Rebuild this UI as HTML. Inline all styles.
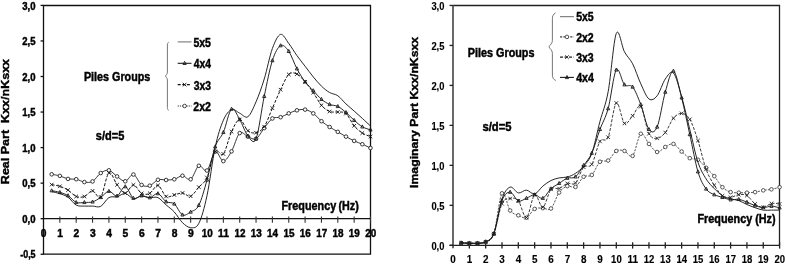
<!DOCTYPE html>
<html><head><meta charset="utf-8"><title>Piles Groups</title>
<style>
html,body{margin:0;padding:0;background:#fff;}
body{width:785px;height:267px;overflow:hidden;}
svg{display:block;}
text{font-family:"Liberation Sans",Arial,sans-serif;font-weight:bold;}
</style></head><body>
<svg width="785" height="267" viewBox="0 0 785 267">
<rect width="785" height="267" fill="#fff"/>
<g stroke="#111" stroke-width="1.3" fill="none">
<path d="M43.5,5.5 H370.5 V254.2 H43.5"/>
<path d="M43.5,4.9 V254.8"/>
<path d="M43.5,218.70 H370.5"/>
<path d="M40.6,5.40 H43.5"/>
<path d="M40.6,40.95 H43.5"/>
<path d="M40.6,76.50 H43.5"/>
<path d="M40.6,112.05 H43.5"/>
<path d="M40.6,147.60 H43.5"/>
<path d="M40.6,183.15 H43.5"/>
<path d="M40.6,218.70 H43.5"/>
<path d="M40.6,254.25 H43.5"/>
<path d="M59.85,216.40 V222.80" stroke="#333" stroke-width="1.1"/>
<path d="M76.20,216.40 V222.80" stroke="#333" stroke-width="1.1"/>
<path d="M92.55,216.40 V222.80" stroke="#333" stroke-width="1.1"/>
<path d="M108.90,216.40 V222.80" stroke="#333" stroke-width="1.1"/>
<path d="M125.25,216.40 V222.80" stroke="#333" stroke-width="1.1"/>
<path d="M141.60,216.40 V222.80" stroke="#333" stroke-width="1.1"/>
<path d="M157.95,216.40 V222.80" stroke="#333" stroke-width="1.1"/>
<path d="M174.30,216.40 V222.80" stroke="#333" stroke-width="1.1"/>
<path d="M190.65,216.40 V222.80" stroke="#333" stroke-width="1.1"/>
<path d="M207.00,216.40 V222.80" stroke="#333" stroke-width="1.1"/>
<path d="M223.35,216.40 V222.80" stroke="#333" stroke-width="1.1"/>
<path d="M239.70,216.40 V222.80" stroke="#333" stroke-width="1.1"/>
<path d="M256.05,216.40 V222.80" stroke="#333" stroke-width="1.1"/>
<path d="M272.40,216.40 V222.80" stroke="#333" stroke-width="1.1"/>
<path d="M288.75,216.40 V222.80" stroke="#333" stroke-width="1.1"/>
<path d="M305.10,216.40 V222.80" stroke="#333" stroke-width="1.1"/>
<path d="M321.45,216.40 V222.80" stroke="#333" stroke-width="1.1"/>
<path d="M337.80,216.40 V222.80" stroke="#333" stroke-width="1.1"/>
<path d="M354.15,216.40 V222.80" stroke="#333" stroke-width="1.1"/>
<path d="M370.50,216.40 V222.80" stroke="#333" stroke-width="1.1"/>
</g>
<g stroke="#222" stroke-width="1.3" fill="none">
<path d="M453.0,5.5 H779.5 V245.30"/>
<path d="M453.0,4.9 V248.30" stroke="#444" stroke-width="1.6"/>
<path d="M449.5,245.30 H779.5"/>
<path d="M449.5,5.45 H453.0"/>
<path d="M449.5,45.43 H453.0"/>
<path d="M449.5,85.40 H453.0"/>
<path d="M449.5,125.38 H453.0"/>
<path d="M449.5,165.35 H453.0"/>
<path d="M449.5,205.33 H453.0"/>
<path d="M449.5,245.30 H453.0"/>
<path d="M469.33,242.30 V248.60"/>
<path d="M485.66,242.30 V248.60"/>
<path d="M501.99,242.30 V248.60"/>
<path d="M518.32,242.30 V248.60"/>
<path d="M534.65,242.30 V248.60"/>
<path d="M550.98,242.30 V248.60"/>
<path d="M567.31,242.30 V248.60"/>
<path d="M583.64,242.30 V248.60"/>
<path d="M599.97,242.30 V248.60"/>
<path d="M616.30,242.30 V248.60"/>
<path d="M632.63,242.30 V248.60"/>
<path d="M648.96,242.30 V248.60"/>
<path d="M665.29,242.30 V248.60"/>
<path d="M681.62,242.30 V248.60"/>
<path d="M697.95,242.30 V248.60"/>
<path d="M714.28,242.30 V248.60"/>
<path d="M730.61,242.30 V248.60"/>
<path d="M746.94,242.30 V248.60"/>
<path d="M763.27,242.30 V248.60"/>
<path d="M779.60,242.30 V248.60"/>
</g>
<path d="M51.67,174.31 C53.04,174.57 57.12,175.10 59.85,175.87 C62.58,176.64 65.30,178.37 68.03,178.93 C70.75,179.49 73.48,178.69 76.20,179.21 C78.92,179.73 81.65,181.69 84.38,182.06 C87.10,182.42 89.83,182.92 92.55,181.42 C95.28,179.91 98.00,174.88 100.73,173.03 C103.45,171.18 106.18,169.76 108.90,170.33 C111.62,170.89 114.35,174.62 117.08,176.44 C119.80,178.26 122.53,181.59 125.25,181.27 C127.97,180.95 130.70,173.92 133.43,174.52 C136.15,175.12 138.88,183.04 141.60,184.90 C144.33,186.76 147.05,186.54 149.78,185.68 C152.50,184.83 155.23,180.73 157.95,179.78 C160.68,178.83 163.40,180.08 166.12,180.00 C168.85,179.91 171.58,180.00 174.30,179.28 C177.03,178.57 179.75,175.73 182.48,175.73 C185.20,175.73 187.93,180.94 190.65,179.28 C193.38,177.62 196.10,167.23 198.83,165.78 C201.55,164.32 204.28,172.91 207.00,170.54 C209.72,168.17 212.45,153.12 215.18,151.56 C217.90,149.99 220.63,161.19 223.35,161.15 C226.08,161.12 228.80,156.02 231.53,151.34 C234.25,146.66 236.98,135.52 239.70,133.07 C242.43,130.62 245.15,135.68 247.88,136.62 C250.60,137.57 253.33,140.18 256.05,138.76 C258.78,137.34 261.50,131.47 264.23,128.09 C266.95,124.71 269.68,120.31 272.40,118.49 C275.13,116.68 277.85,118.07 280.58,117.21 C283.30,116.36 286.02,114.52 288.75,113.37 C291.48,112.22 294.20,110.95 296.93,110.32 C299.65,109.69 302.38,109.10 305.10,109.61 C307.83,110.12 310.55,111.44 313.28,113.37 C316.00,115.31 318.73,118.92 321.45,121.20 C324.18,123.47 326.90,125.25 329.62,127.03 C332.35,128.80 335.07,130.26 337.80,131.86 C340.53,133.46 343.25,135.12 345.98,136.62 C348.70,138.13 351.43,139.62 354.15,140.89 C356.88,142.16 359.60,143.05 362.33,144.23 C365.05,145.42 369.14,147.37 370.50,148.00" fill="none" stroke="#222" stroke-width="0.9"/>
<circle cx="51.67" cy="174.31" r="1.8" fill="#fff" stroke="#222" stroke-width="0.9"/>
<circle cx="59.85" cy="175.87" r="1.8" fill="#fff" stroke="#222" stroke-width="0.9"/>
<circle cx="68.03" cy="178.93" r="1.8" fill="#fff" stroke="#222" stroke-width="0.9"/>
<circle cx="76.20" cy="179.21" r="1.8" fill="#fff" stroke="#222" stroke-width="0.9"/>
<circle cx="84.38" cy="182.06" r="1.8" fill="#fff" stroke="#222" stroke-width="0.9"/>
<circle cx="92.55" cy="181.42" r="1.8" fill="#fff" stroke="#222" stroke-width="0.9"/>
<circle cx="100.73" cy="173.03" r="1.8" fill="#fff" stroke="#222" stroke-width="0.9"/>
<circle cx="108.90" cy="170.33" r="1.8" fill="#fff" stroke="#222" stroke-width="0.9"/>
<circle cx="117.08" cy="176.44" r="1.8" fill="#fff" stroke="#222" stroke-width="0.9"/>
<circle cx="125.25" cy="181.27" r="1.8" fill="#fff" stroke="#222" stroke-width="0.9"/>
<circle cx="133.43" cy="174.52" r="1.8" fill="#fff" stroke="#222" stroke-width="0.9"/>
<circle cx="141.60" cy="184.90" r="1.8" fill="#fff" stroke="#222" stroke-width="0.9"/>
<circle cx="149.78" cy="185.68" r="1.8" fill="#fff" stroke="#222" stroke-width="0.9"/>
<circle cx="157.95" cy="179.78" r="1.8" fill="#fff" stroke="#222" stroke-width="0.9"/>
<circle cx="166.12" cy="180.00" r="1.8" fill="#fff" stroke="#222" stroke-width="0.9"/>
<circle cx="174.30" cy="179.28" r="1.8" fill="#fff" stroke="#222" stroke-width="0.9"/>
<circle cx="182.48" cy="175.73" r="1.8" fill="#fff" stroke="#222" stroke-width="0.9"/>
<circle cx="190.65" cy="179.28" r="1.8" fill="#fff" stroke="#222" stroke-width="0.9"/>
<circle cx="198.83" cy="165.78" r="1.8" fill="#fff" stroke="#222" stroke-width="0.9"/>
<circle cx="207.00" cy="170.54" r="1.8" fill="#fff" stroke="#222" stroke-width="0.9"/>
<circle cx="215.18" cy="151.56" r="1.8" fill="#fff" stroke="#222" stroke-width="0.9"/>
<circle cx="223.35" cy="161.15" r="1.8" fill="#fff" stroke="#222" stroke-width="0.9"/>
<circle cx="231.53" cy="151.34" r="1.8" fill="#fff" stroke="#222" stroke-width="0.9"/>
<circle cx="239.70" cy="133.07" r="1.8" fill="#fff" stroke="#222" stroke-width="0.9"/>
<circle cx="247.88" cy="136.62" r="1.8" fill="#fff" stroke="#222" stroke-width="0.9"/>
<circle cx="256.05" cy="138.76" r="1.8" fill="#fff" stroke="#222" stroke-width="0.9"/>
<circle cx="264.23" cy="128.09" r="1.8" fill="#fff" stroke="#222" stroke-width="0.9"/>
<circle cx="272.40" cy="118.49" r="1.8" fill="#fff" stroke="#222" stroke-width="0.9"/>
<circle cx="280.58" cy="117.21" r="1.8" fill="#fff" stroke="#222" stroke-width="0.9"/>
<circle cx="288.75" cy="113.37" r="1.8" fill="#fff" stroke="#222" stroke-width="0.9"/>
<circle cx="296.93" cy="110.32" r="1.8" fill="#fff" stroke="#222" stroke-width="0.9"/>
<circle cx="305.10" cy="109.61" r="1.8" fill="#fff" stroke="#222" stroke-width="0.9"/>
<circle cx="313.28" cy="113.37" r="1.8" fill="#fff" stroke="#222" stroke-width="0.9"/>
<circle cx="321.45" cy="121.20" r="1.8" fill="#fff" stroke="#222" stroke-width="0.9"/>
<circle cx="329.62" cy="127.03" r="1.8" fill="#fff" stroke="#222" stroke-width="0.9"/>
<circle cx="337.80" cy="131.86" r="1.8" fill="#fff" stroke="#222" stroke-width="0.9"/>
<circle cx="345.98" cy="136.62" r="1.8" fill="#fff" stroke="#222" stroke-width="0.9"/>
<circle cx="354.15" cy="140.89" r="1.8" fill="#fff" stroke="#222" stroke-width="0.9"/>
<circle cx="362.33" cy="144.23" r="1.8" fill="#fff" stroke="#222" stroke-width="0.9"/>
<circle cx="370.50" cy="148.00" r="1.8" fill="#fff" stroke="#222" stroke-width="0.9"/>
<path d="M51.67,184.62 C53.04,184.90 57.12,185.41 59.85,186.32 C62.58,187.24 65.30,188.40 68.03,190.09 C70.75,191.79 73.48,195.42 76.20,196.49 C78.92,197.56 81.65,197.43 84.38,196.49 C87.10,195.55 89.83,190.78 92.55,190.87 C95.28,190.97 98.00,200.06 100.73,197.06 C103.45,194.06 106.18,174.94 108.90,172.88 C111.62,170.83 114.35,181.39 117.08,184.76 C119.80,188.12 122.53,193.05 125.25,193.08 C127.97,193.10 130.70,184.84 133.43,184.90 C136.15,184.96 138.88,192.03 141.60,193.43 C144.33,194.83 147.05,194.63 149.78,193.29 C152.50,191.95 155.23,184.88 157.95,185.40 C160.68,185.92 163.40,194.83 166.12,196.42 C168.85,198.01 171.58,195.49 174.30,194.93 C177.03,194.36 179.75,192.79 182.48,193.01 C185.20,193.22 187.93,197.19 190.65,196.21 C193.38,195.22 196.10,190.21 198.83,187.10 C201.55,184.00 204.28,183.50 207.00,177.58 C209.72,171.65 212.45,155.49 215.18,151.56 C217.90,147.62 220.63,157.29 223.35,153.97 C226.08,150.65 228.80,137.38 231.53,131.65 C234.25,125.91 236.98,119.71 239.70,119.56 C242.43,119.41 245.15,128.53 247.88,130.72 C250.60,132.91 253.33,133.39 256.05,132.71 C258.78,132.04 261.50,130.76 264.23,126.67 C266.95,122.58 269.68,114.35 272.40,108.18 C275.13,102.02 277.85,95.33 280.58,89.70 C283.30,84.07 286.02,77.02 288.75,74.41 C291.48,71.80 294.20,72.81 296.93,74.06 C299.65,75.30 302.38,78.80 305.10,81.88 C307.83,84.96 310.55,88.63 313.28,92.54 C316.00,96.45 318.73,102.18 321.45,105.34 C324.18,108.50 326.90,110.41 329.62,111.53 C332.35,112.64 335.07,111.68 337.80,112.02 C340.53,112.37 343.25,111.29 345.98,113.59 C348.70,115.89 351.43,122.57 354.15,125.82 C356.88,129.06 359.60,131.27 362.33,133.07 C365.05,134.87 369.14,136.03 370.50,136.62" fill="none" stroke="#111" stroke-width="1.0" stroke-dasharray="3,1.6"/>
<path d="M49.88,182.82 L53.47,186.42 M49.88,186.42 L53.47,182.82" stroke="#111" stroke-width="0.9"/>
<path d="M58.05,184.52 L61.65,188.12 M58.05,188.12 L61.65,184.52" stroke="#111" stroke-width="0.9"/>
<path d="M66.23,188.29 L69.83,191.89 M66.23,191.89 L69.83,188.29" stroke="#111" stroke-width="0.9"/>
<path d="M74.40,194.69 L78.00,198.29 M74.40,198.29 L78.00,194.69" stroke="#111" stroke-width="0.9"/>
<path d="M82.58,194.69 L86.17,198.29 M82.58,198.29 L86.17,194.69" stroke="#111" stroke-width="0.9"/>
<path d="M90.75,189.07 L94.35,192.67 M90.75,192.67 L94.35,189.07" stroke="#111" stroke-width="0.9"/>
<path d="M98.93,195.26 L102.53,198.86 M98.93,198.86 L102.53,195.26" stroke="#111" stroke-width="0.9"/>
<path d="M107.10,171.08 L110.70,174.69 M107.10,174.69 L110.70,171.08" stroke="#111" stroke-width="0.9"/>
<path d="M115.28,182.96 L118.88,186.56 M115.28,186.56 L118.88,182.96" stroke="#111" stroke-width="0.9"/>
<path d="M123.45,191.28 L127.05,194.88 M123.45,194.88 L127.05,191.28" stroke="#111" stroke-width="0.9"/>
<path d="M131.62,183.10 L135.23,186.70 M131.62,186.70 L135.23,183.10" stroke="#111" stroke-width="0.9"/>
<path d="M139.80,191.63 L143.40,195.23 M139.80,195.23 L143.40,191.63" stroke="#111" stroke-width="0.9"/>
<path d="M147.97,191.49 L151.58,195.09 M147.97,195.09 L151.58,191.49" stroke="#111" stroke-width="0.9"/>
<path d="M156.15,183.60 L159.75,187.20 M156.15,187.20 L159.75,183.60" stroke="#111" stroke-width="0.9"/>
<path d="M164.32,194.62 L167.93,198.22 M164.32,198.22 L167.93,194.62" stroke="#111" stroke-width="0.9"/>
<path d="M172.50,193.13 L176.10,196.73 M172.50,196.73 L176.10,193.13" stroke="#111" stroke-width="0.9"/>
<path d="M180.68,191.21 L184.28,194.81 M180.68,194.81 L184.28,191.21" stroke="#111" stroke-width="0.9"/>
<path d="M188.85,194.41 L192.45,198.01 M188.85,198.01 L192.45,194.41" stroke="#111" stroke-width="0.9"/>
<path d="M197.03,185.30 L200.63,188.91 M197.03,188.91 L200.63,185.30" stroke="#111" stroke-width="0.9"/>
<path d="M205.20,175.78 L208.80,179.38 M205.20,179.38 L208.80,175.78" stroke="#111" stroke-width="0.9"/>
<path d="M213.38,149.75 L216.98,153.36 M213.38,153.36 L216.98,149.75" stroke="#111" stroke-width="0.9"/>
<path d="M221.55,152.17 L225.15,155.77 M221.55,155.77 L225.15,152.17" stroke="#111" stroke-width="0.9"/>
<path d="M229.72,129.85 L233.33,133.45 M229.72,133.45 L233.33,129.85" stroke="#111" stroke-width="0.9"/>
<path d="M237.90,117.76 L241.50,121.36 M237.90,121.36 L241.50,117.76" stroke="#111" stroke-width="0.9"/>
<path d="M246.08,128.92 L249.68,132.52 M246.08,132.52 L249.68,128.92" stroke="#111" stroke-width="0.9"/>
<path d="M254.25,130.91 L257.85,134.51 M254.25,134.51 L257.85,130.91" stroke="#111" stroke-width="0.9"/>
<path d="M262.43,124.87 L266.03,128.47 M262.43,128.47 L266.03,124.87" stroke="#111" stroke-width="0.9"/>
<path d="M270.60,106.38 L274.20,109.98 M270.60,109.98 L274.20,106.38" stroke="#111" stroke-width="0.9"/>
<path d="M278.78,87.90 L282.38,91.50 M278.78,91.50 L282.38,87.90" stroke="#111" stroke-width="0.9"/>
<path d="M286.95,72.61 L290.55,76.21 M286.95,76.21 L290.55,72.61" stroke="#111" stroke-width="0.9"/>
<path d="M295.12,72.26 L298.73,75.86 M295.12,75.86 L298.73,72.26" stroke="#111" stroke-width="0.9"/>
<path d="M303.30,80.08 L306.90,83.68 M303.30,83.68 L306.90,80.08" stroke="#111" stroke-width="0.9"/>
<path d="M311.48,90.74 L315.08,94.34 M311.48,94.34 L315.08,90.74" stroke="#111" stroke-width="0.9"/>
<path d="M319.65,103.54 L323.25,107.14 M319.65,107.14 L323.25,103.54" stroke="#111" stroke-width="0.9"/>
<path d="M327.82,109.73 L331.43,113.33 M327.82,113.33 L331.43,109.73" stroke="#111" stroke-width="0.9"/>
<path d="M336.00,110.22 L339.60,113.82 M336.00,113.82 L339.60,110.22" stroke="#111" stroke-width="0.9"/>
<path d="M344.18,111.79 L347.78,115.39 M344.18,115.39 L347.78,111.79" stroke="#111" stroke-width="0.9"/>
<path d="M352.35,124.02 L355.95,127.62 M352.35,127.62 L355.95,124.02" stroke="#111" stroke-width="0.9"/>
<path d="M360.53,131.27 L364.13,134.87 M360.53,134.87 L364.13,131.27" stroke="#111" stroke-width="0.9"/>
<path d="M368.70,134.82 L372.30,138.42 M368.70,138.42 L372.30,134.82" stroke="#111" stroke-width="0.9"/>
<path d="M51.67,190.66 C53.04,190.94 57.12,191.54 59.85,192.37 C62.58,193.20 65.30,193.97 68.03,195.64 C70.75,197.31 73.48,201.27 76.20,202.39 C78.92,203.52 81.65,202.47 84.38,202.39 C87.10,202.31 89.83,202.72 92.55,201.89 C95.28,201.06 98.00,199.19 100.73,197.41 C103.45,195.64 106.18,191.48 108.90,191.23 C111.62,190.98 114.35,196.69 117.08,195.92 C119.80,195.15 122.53,186.23 125.25,186.61 C127.97,186.99 130.70,196.68 133.43,198.20 C136.15,199.71 138.88,195.80 141.60,195.71 C144.33,195.61 147.05,197.98 149.78,197.63 C152.50,197.27 155.23,192.90 157.95,193.58 C160.68,194.25 163.40,199.96 166.12,201.68 C168.85,203.40 171.58,201.69 174.30,203.88 C177.03,206.08 179.75,213.48 182.48,214.83 C185.20,216.18 187.93,213.59 190.65,211.99 C193.38,210.39 196.10,210.57 198.83,205.24 C201.55,199.90 204.28,189.74 207.00,180.00 C209.72,170.25 212.45,154.73 215.18,146.79 C217.90,138.85 220.63,138.64 223.35,132.36 C226.08,126.08 228.80,111.24 231.53,109.11 C234.25,106.98 236.98,115.09 239.70,119.56 C242.43,124.03 245.15,132.71 247.88,135.91 C250.60,139.11 253.33,145.36 256.05,138.76 C258.78,132.16 261.50,109.35 264.23,96.31 C266.95,83.28 269.68,69.00 272.40,60.55 C275.13,52.10 277.85,47.16 280.58,45.62 C283.30,44.08 286.02,47.45 288.75,51.30 C291.48,55.16 294.20,63.63 296.93,68.72 C299.65,73.82 302.38,78.23 305.10,81.88 C307.83,85.53 310.55,87.72 313.28,90.62 C316.00,93.53 318.73,97.00 321.45,99.30 C324.18,101.60 326.90,103.23 329.62,104.42 C332.35,105.60 335.07,105.07 337.80,106.41 C340.53,107.75 343.25,110.14 345.98,112.45 C348.70,114.76 351.43,117.88 354.15,120.27 C356.88,122.66 359.60,125.21 362.33,126.81 C365.05,128.41 369.14,129.36 370.50,129.87" fill="none" stroke="#1a1a1a" stroke-width="0.95"/>
<path d="M51.67,188.76 L53.27,191.86 L50.07,191.86 Z" fill="none" stroke="#1a1a1a" stroke-width="0.9"/>
<path d="M59.85,190.47 L61.45,193.57 L58.25,193.57 Z" fill="none" stroke="#1a1a1a" stroke-width="0.9"/>
<path d="M68.03,193.74 L69.62,196.84 L66.43,196.84 Z" fill="none" stroke="#1a1a1a" stroke-width="0.9"/>
<path d="M76.20,200.49 L77.80,203.59 L74.60,203.59 Z" fill="none" stroke="#1a1a1a" stroke-width="0.9"/>
<path d="M84.38,200.49 L85.97,203.59 L82.78,203.59 Z" fill="none" stroke="#1a1a1a" stroke-width="0.9"/>
<path d="M92.55,199.99 L94.15,203.09 L90.95,203.09 Z" fill="none" stroke="#1a1a1a" stroke-width="0.9"/>
<path d="M100.73,195.51 L102.33,198.61 L99.13,198.61 Z" fill="none" stroke="#1a1a1a" stroke-width="0.9"/>
<path d="M108.90,189.33 L110.50,192.43 L107.30,192.43 Z" fill="none" stroke="#1a1a1a" stroke-width="0.9"/>
<path d="M117.08,194.02 L118.67,197.12 L115.48,197.12 Z" fill="none" stroke="#1a1a1a" stroke-width="0.9"/>
<path d="M125.25,184.71 L126.85,187.81 L123.65,187.81 Z" fill="none" stroke="#1a1a1a" stroke-width="0.9"/>
<path d="M133.43,196.30 L135.03,199.40 L131.83,199.40 Z" fill="none" stroke="#1a1a1a" stroke-width="0.9"/>
<path d="M141.60,193.81 L143.20,196.91 L140.00,196.91 Z" fill="none" stroke="#1a1a1a" stroke-width="0.9"/>
<path d="M149.78,195.73 L151.38,198.83 L148.18,198.83 Z" fill="none" stroke="#1a1a1a" stroke-width="0.9"/>
<path d="M157.95,191.68 L159.55,194.78 L156.35,194.78 Z" fill="none" stroke="#1a1a1a" stroke-width="0.9"/>
<path d="M166.12,199.78 L167.72,202.88 L164.53,202.88 Z" fill="none" stroke="#1a1a1a" stroke-width="0.9"/>
<path d="M174.30,201.98 L175.90,205.08 L172.70,205.08 Z" fill="none" stroke="#1a1a1a" stroke-width="0.9"/>
<path d="M182.48,212.93 L184.08,216.03 L180.88,216.03 Z" fill="none" stroke="#1a1a1a" stroke-width="0.9"/>
<path d="M190.65,210.09 L192.25,213.19 L189.05,213.19 Z" fill="none" stroke="#1a1a1a" stroke-width="0.9"/>
<path d="M198.83,203.34 L200.43,206.44 L197.23,206.44 Z" fill="none" stroke="#1a1a1a" stroke-width="0.9"/>
<path d="M207.00,178.09 L208.60,181.19 L205.40,181.19 Z" fill="none" stroke="#1a1a1a" stroke-width="0.9"/>
<path d="M215.18,144.89 L216.78,147.99 L213.58,147.99 Z" fill="none" stroke="#1a1a1a" stroke-width="0.9"/>
<path d="M223.35,130.46 L224.95,133.56 L221.75,133.56 Z" fill="none" stroke="#1a1a1a" stroke-width="0.9"/>
<path d="M231.53,107.21 L233.12,110.31 L229.93,110.31 Z" fill="none" stroke="#1a1a1a" stroke-width="0.9"/>
<path d="M239.70,117.66 L241.30,120.76 L238.10,120.76 Z" fill="none" stroke="#1a1a1a" stroke-width="0.9"/>
<path d="M247.88,134.01 L249.48,137.11 L246.28,137.11 Z" fill="none" stroke="#1a1a1a" stroke-width="0.9"/>
<path d="M256.05,136.86 L257.65,139.96 L254.45,139.96 Z" fill="none" stroke="#1a1a1a" stroke-width="0.9"/>
<path d="M264.23,94.41 L265.83,97.51 L262.62,97.51 Z" fill="none" stroke="#1a1a1a" stroke-width="0.9"/>
<path d="M272.40,58.65 L274.00,61.75 L270.80,61.75 Z" fill="none" stroke="#1a1a1a" stroke-width="0.9"/>
<path d="M280.58,43.72 L282.18,46.82 L278.98,46.82 Z" fill="none" stroke="#1a1a1a" stroke-width="0.9"/>
<path d="M288.75,49.40 L290.35,52.50 L287.15,52.50 Z" fill="none" stroke="#1a1a1a" stroke-width="0.9"/>
<path d="M296.93,66.82 L298.53,69.92 L295.32,69.92 Z" fill="none" stroke="#1a1a1a" stroke-width="0.9"/>
<path d="M305.10,79.98 L306.70,83.08 L303.50,83.08 Z" fill="none" stroke="#1a1a1a" stroke-width="0.9"/>
<path d="M313.28,88.72 L314.88,91.82 L311.68,91.82 Z" fill="none" stroke="#1a1a1a" stroke-width="0.9"/>
<path d="M321.45,97.40 L323.05,100.50 L319.85,100.50 Z" fill="none" stroke="#1a1a1a" stroke-width="0.9"/>
<path d="M329.62,102.52 L331.23,105.62 L328.02,105.62 Z" fill="none" stroke="#1a1a1a" stroke-width="0.9"/>
<path d="M337.80,104.51 L339.40,107.61 L336.20,107.61 Z" fill="none" stroke="#1a1a1a" stroke-width="0.9"/>
<path d="M345.98,110.55 L347.58,113.65 L344.38,113.65 Z" fill="none" stroke="#1a1a1a" stroke-width="0.9"/>
<path d="M354.15,118.37 L355.75,121.47 L352.55,121.47 Z" fill="none" stroke="#1a1a1a" stroke-width="0.9"/>
<path d="M362.33,124.91 L363.93,128.01 L360.73,128.01 Z" fill="none" stroke="#1a1a1a" stroke-width="0.9"/>
<path d="M370.50,127.97 L372.10,131.07 L368.90,131.07 Z" fill="none" stroke="#1a1a1a" stroke-width="0.9"/>
<path d="M51.67,191.58 C53.04,191.94 57.12,192.78 59.85,193.72 C62.58,194.65 65.30,195.31 68.03,197.20 C70.75,199.10 73.48,203.61 76.20,205.09 C78.92,206.57 81.65,205.92 84.38,206.09 C87.10,206.25 89.83,206.04 92.55,206.09 C95.28,206.14 98.00,207.78 100.73,206.37 C103.45,204.96 106.18,199.24 108.90,197.63 C111.62,196.02 114.35,197.39 117.08,196.70 C119.80,196.02 122.53,193.18 125.25,193.50 C127.97,193.82 130.70,198.18 133.43,198.62 C136.15,199.06 138.88,196.30 141.60,196.13 C144.33,195.97 147.05,197.38 149.78,197.63 C152.50,197.88 155.23,196.42 157.95,197.63 C160.68,198.84 163.40,202.49 166.12,204.88 C168.85,207.27 171.58,209.03 174.30,211.99 C177.03,214.95 179.75,220.05 182.48,222.66 C185.20,225.26 187.93,227.51 190.65,227.63 C193.38,227.75 196.10,228.70 198.83,223.37 C201.55,218.03 204.28,208.32 207.00,195.64 C209.72,182.96 212.45,159.85 215.18,147.29 C217.90,134.73 220.63,126.55 223.35,120.27 C226.08,113.99 228.80,110.79 231.53,109.61 C234.25,108.42 236.98,111.98 239.70,113.16 C242.43,114.35 245.15,118.61 247.88,116.72 C250.60,114.82 253.33,108.07 256.05,101.79 C258.78,95.50 261.50,87.92 264.23,79.03 C266.95,70.15 269.68,55.90 272.40,48.46 C275.13,41.02 277.85,35.21 280.58,34.38 C283.30,33.55 286.02,39.95 288.75,43.48 C291.48,47.01 294.20,51.78 296.93,55.57 C299.65,59.36 302.38,62.68 305.10,66.24 C307.83,69.79 310.55,73.58 313.28,76.90 C316.00,80.22 318.73,83.54 321.45,86.14 C324.18,88.75 326.90,90.94 329.62,92.54 C332.35,94.14 335.07,93.85 337.80,95.74 C340.53,97.64 343.25,101.37 345.98,103.92 C348.70,106.47 351.43,108.61 354.15,111.03 C356.88,113.45 359.60,115.93 362.33,118.42 C365.05,120.91 369.14,124.70 370.50,125.96" fill="none" stroke="#1a1a1a" stroke-width="0.95"/>
<path d="M461.17,242.90 C462.53,242.95 466.61,243.17 469.33,243.22 C472.05,243.27 474.77,243.45 477.50,243.22 C480.22,242.99 482.94,243.45 485.66,241.86 C488.38,240.28 491.10,241.80 493.82,233.71 C496.55,225.62 499.27,197.20 501.99,193.33 C504.71,189.47 507.43,206.86 510.15,210.52 C512.88,214.19 515.60,214.12 518.32,215.32 C521.04,216.52 523.76,218.78 526.49,217.72 C529.21,216.65 531.93,210.52 534.65,208.92 C537.37,207.32 540.09,208.19 542.82,208.12 C545.54,208.06 548.26,211.12 550.98,208.52 C553.70,205.92 556.42,196.26 559.14,192.53 C561.87,188.80 564.59,187.07 567.31,186.14 C570.03,185.20 572.75,188.50 575.48,186.94 C578.20,185.38 580.92,178.78 583.64,176.78 C586.36,174.78 589.08,177.45 591.80,174.94 C594.53,172.44 597.25,164.15 599.97,161.75 C602.69,159.35 605.41,162.35 608.13,160.55 C610.86,158.75 613.58,152.56 616.30,150.96 C619.02,149.36 621.74,150.13 624.46,150.96 C627.19,151.79 629.91,158.78 632.63,155.92 C635.35,153.05 638.07,135.77 640.79,133.77 C643.52,131.77 646.24,140.89 648.96,143.92 C651.68,146.96 654.40,151.49 657.12,152.00 C659.85,152.50 662.57,148.31 665.29,146.96 C668.01,145.62 670.73,143.16 673.45,143.92 C676.18,144.68 678.90,149.15 681.62,151.52 C684.34,153.89 687.06,156.78 689.78,158.15 C692.51,159.53 695.23,158.15 697.95,159.75 C700.67,161.35 703.39,165.02 706.12,167.75 C708.84,170.48 711.56,172.91 714.28,176.14 C717.00,179.38 719.72,184.51 722.44,187.18 C725.17,189.84 727.89,191.21 730.61,192.13 C733.33,193.05 736.05,192.60 738.77,192.69 C741.50,192.79 744.22,192.79 746.94,192.69 C749.66,192.60 752.38,192.52 755.11,192.13 C757.83,191.75 760.55,190.84 763.27,190.37 C765.99,189.91 768.71,189.87 771.43,189.34 C774.16,188.80 778.24,187.54 779.60,187.18" fill="none" stroke="#444" stroke-width="0.9" stroke-dasharray="2.2,1.2"/>
<circle cx="461.17" cy="242.90" r="1.8" fill="#fff" stroke="#444" stroke-width="0.9"/>
<circle cx="469.33" cy="243.22" r="1.8" fill="#fff" stroke="#444" stroke-width="0.9"/>
<circle cx="477.50" cy="243.22" r="1.8" fill="#fff" stroke="#444" stroke-width="0.9"/>
<circle cx="485.66" cy="241.86" r="1.8" fill="#fff" stroke="#444" stroke-width="0.9"/>
<circle cx="493.82" cy="233.71" r="1.8" fill="#fff" stroke="#444" stroke-width="0.9"/>
<circle cx="501.99" cy="193.33" r="1.8" fill="#fff" stroke="#444" stroke-width="0.9"/>
<circle cx="510.15" cy="210.52" r="1.8" fill="#fff" stroke="#444" stroke-width="0.9"/>
<circle cx="518.32" cy="215.32" r="1.8" fill="#fff" stroke="#444" stroke-width="0.9"/>
<circle cx="526.49" cy="217.72" r="1.8" fill="#fff" stroke="#444" stroke-width="0.9"/>
<circle cx="534.65" cy="208.92" r="1.8" fill="#fff" stroke="#444" stroke-width="0.9"/>
<circle cx="542.82" cy="208.12" r="1.8" fill="#fff" stroke="#444" stroke-width="0.9"/>
<circle cx="550.98" cy="208.52" r="1.8" fill="#fff" stroke="#444" stroke-width="0.9"/>
<circle cx="559.14" cy="192.53" r="1.8" fill="#fff" stroke="#444" stroke-width="0.9"/>
<circle cx="567.31" cy="186.14" r="1.8" fill="#fff" stroke="#444" stroke-width="0.9"/>
<circle cx="575.48" cy="186.94" r="1.8" fill="#fff" stroke="#444" stroke-width="0.9"/>
<circle cx="583.64" cy="176.78" r="1.8" fill="#fff" stroke="#444" stroke-width="0.9"/>
<circle cx="591.80" cy="174.94" r="1.8" fill="#fff" stroke="#444" stroke-width="0.9"/>
<circle cx="599.97" cy="161.75" r="1.8" fill="#fff" stroke="#444" stroke-width="0.9"/>
<circle cx="608.13" cy="160.55" r="1.8" fill="#fff" stroke="#444" stroke-width="0.9"/>
<circle cx="616.30" cy="150.96" r="1.8" fill="#fff" stroke="#444" stroke-width="0.9"/>
<circle cx="624.46" cy="150.96" r="1.8" fill="#fff" stroke="#444" stroke-width="0.9"/>
<circle cx="632.63" cy="155.92" r="1.8" fill="#fff" stroke="#444" stroke-width="0.9"/>
<circle cx="640.79" cy="133.77" r="1.8" fill="#fff" stroke="#444" stroke-width="0.9"/>
<circle cx="648.96" cy="143.92" r="1.8" fill="#fff" stroke="#444" stroke-width="0.9"/>
<circle cx="657.12" cy="152.00" r="1.8" fill="#fff" stroke="#444" stroke-width="0.9"/>
<circle cx="665.29" cy="146.96" r="1.8" fill="#fff" stroke="#444" stroke-width="0.9"/>
<circle cx="673.45" cy="143.92" r="1.8" fill="#fff" stroke="#444" stroke-width="0.9"/>
<circle cx="681.62" cy="151.52" r="1.8" fill="#fff" stroke="#444" stroke-width="0.9"/>
<circle cx="689.78" cy="158.15" r="1.8" fill="#fff" stroke="#444" stroke-width="0.9"/>
<circle cx="697.95" cy="159.75" r="1.8" fill="#fff" stroke="#444" stroke-width="0.9"/>
<circle cx="706.12" cy="167.75" r="1.8" fill="#fff" stroke="#444" stroke-width="0.9"/>
<circle cx="714.28" cy="176.14" r="1.8" fill="#fff" stroke="#444" stroke-width="0.9"/>
<circle cx="722.44" cy="187.18" r="1.8" fill="#fff" stroke="#444" stroke-width="0.9"/>
<circle cx="730.61" cy="192.13" r="1.8" fill="#fff" stroke="#444" stroke-width="0.9"/>
<circle cx="738.77" cy="192.69" r="1.8" fill="#fff" stroke="#444" stroke-width="0.9"/>
<circle cx="746.94" cy="192.69" r="1.8" fill="#fff" stroke="#444" stroke-width="0.9"/>
<circle cx="755.11" cy="192.13" r="1.8" fill="#fff" stroke="#444" stroke-width="0.9"/>
<circle cx="763.27" cy="190.37" r="1.8" fill="#fff" stroke="#444" stroke-width="0.9"/>
<circle cx="771.43" cy="189.34" r="1.8" fill="#fff" stroke="#444" stroke-width="0.9"/>
<circle cx="779.60" cy="187.18" r="1.8" fill="#fff" stroke="#444" stroke-width="0.9"/>
<path d="M461.17,242.90 C462.53,242.95 466.61,243.17 469.33,243.22 C472.05,243.27 474.77,243.45 477.50,243.22 C480.22,242.99 482.94,243.45 485.66,241.86 C488.38,240.28 491.10,240.06 493.82,233.71 C496.55,227.35 499.27,209.59 501.99,203.73 C504.71,197.86 507.43,199.04 510.15,198.53 C512.88,198.02 515.60,197.52 518.32,200.69 C521.04,203.86 523.76,218.56 526.49,217.56 C529.21,216.56 531.93,196.42 534.65,194.69 C537.37,192.96 540.09,208.06 542.82,207.16 C545.54,206.27 548.26,192.44 550.98,189.34 C553.70,186.23 556.42,189.52 559.14,188.54 C561.87,187.55 564.59,184.35 567.31,183.42 C570.03,182.49 572.75,185.64 575.48,182.94 C578.20,180.23 580.92,170.29 583.64,167.19 C586.36,164.08 589.08,168.61 591.80,164.31 C594.53,160.01 597.25,145.88 599.97,141.37 C602.69,136.85 605.41,143.60 608.13,137.21 C610.86,130.81 613.58,105.29 616.30,102.99 C619.02,100.68 621.74,121.24 624.46,123.38 C627.19,125.51 629.91,118.58 632.63,115.78 C635.35,112.98 638.07,103.60 640.79,106.59 C643.52,109.57 646.24,128.40 648.96,133.69 C651.68,138.98 654.40,138.51 657.12,138.33 C659.85,138.14 662.57,135.93 665.29,132.57 C668.01,129.21 670.73,121.38 673.45,118.18 C676.18,114.98 678.90,113.18 681.62,113.38 C684.34,113.58 687.06,114.85 689.78,119.38 C692.51,123.91 695.23,132.24 697.95,140.57 C700.67,148.89 703.39,161.91 706.12,169.35 C708.84,176.78 711.56,180.78 714.28,185.18 C717.00,189.57 719.72,193.71 722.44,195.73 C725.17,197.76 727.89,197.50 730.61,197.33 C733.33,197.16 736.05,195.00 738.77,194.69 C741.50,194.39 744.22,193.95 746.94,195.49 C749.66,197.04 752.38,201.99 755.11,203.97 C757.83,205.94 760.55,207.40 763.27,207.32 C765.99,207.24 768.71,204.05 771.43,203.49 C774.16,202.93 778.24,203.89 779.60,203.97" fill="none" stroke="#222" stroke-width="0.9" stroke-dasharray="3,1.5"/>
<path d="M459.37,241.10 L462.97,244.70 M459.37,244.70 L462.97,241.10" stroke="#222" stroke-width="0.9"/>
<path d="M467.53,241.42 L471.13,245.02 M467.53,245.02 L471.13,241.42" stroke="#222" stroke-width="0.9"/>
<path d="M475.69,241.42 L479.30,245.02 M475.69,245.02 L479.30,241.42" stroke="#222" stroke-width="0.9"/>
<path d="M483.86,240.06 L487.46,243.66 M483.86,243.66 L487.46,240.06" stroke="#222" stroke-width="0.9"/>
<path d="M492.02,231.91 L495.62,235.51 M492.02,235.51 L495.62,231.91" stroke="#222" stroke-width="0.9"/>
<path d="M500.19,201.93 L503.79,205.53 M500.19,205.53 L503.79,201.93" stroke="#222" stroke-width="0.9"/>
<path d="M508.35,196.73 L511.95,200.33 M508.35,200.33 L511.95,196.73" stroke="#222" stroke-width="0.9"/>
<path d="M516.52,198.89 L520.12,202.49 M516.52,202.49 L520.12,198.89" stroke="#222" stroke-width="0.9"/>
<path d="M524.69,215.76 L528.28,219.36 M524.69,219.36 L528.28,215.76" stroke="#222" stroke-width="0.9"/>
<path d="M532.85,192.89 L536.45,196.49 M532.85,196.49 L536.45,192.89" stroke="#222" stroke-width="0.9"/>
<path d="M541.02,205.36 L544.62,208.96 M541.02,208.96 L544.62,205.36" stroke="#222" stroke-width="0.9"/>
<path d="M549.18,187.53 L552.78,191.14 M549.18,191.14 L552.78,187.53" stroke="#222" stroke-width="0.9"/>
<path d="M557.35,186.74 L560.94,190.34 M557.35,190.34 L560.94,186.74" stroke="#222" stroke-width="0.9"/>
<path d="M565.51,181.62 L569.11,185.22 M565.51,185.22 L569.11,181.62" stroke="#222" stroke-width="0.9"/>
<path d="M573.68,181.14 L577.27,184.74 M573.68,184.74 L577.27,181.14" stroke="#222" stroke-width="0.9"/>
<path d="M581.84,165.39 L585.44,168.99 M581.84,168.99 L585.44,165.39" stroke="#222" stroke-width="0.9"/>
<path d="M590.00,162.51 L593.60,166.11 M590.00,166.11 L593.60,162.51" stroke="#222" stroke-width="0.9"/>
<path d="M598.17,139.56 L601.77,143.17 M598.17,143.17 L601.77,139.56" stroke="#222" stroke-width="0.9"/>
<path d="M606.34,135.41 L609.93,139.01 M606.34,139.01 L609.93,135.41" stroke="#222" stroke-width="0.9"/>
<path d="M614.50,101.19 L618.10,104.79 M614.50,104.79 L618.10,101.19" stroke="#222" stroke-width="0.9"/>
<path d="M622.66,121.58 L626.26,125.18 M622.66,125.18 L626.26,121.58" stroke="#222" stroke-width="0.9"/>
<path d="M630.83,113.98 L634.43,117.58 M630.83,117.58 L634.43,113.98" stroke="#222" stroke-width="0.9"/>
<path d="M639.00,104.79 L642.59,108.39 M639.00,108.39 L642.59,104.79" stroke="#222" stroke-width="0.9"/>
<path d="M647.16,131.89 L650.76,135.49 M647.16,135.49 L650.76,131.89" stroke="#222" stroke-width="0.9"/>
<path d="M655.33,136.53 L658.92,140.13 M655.33,140.13 L658.92,136.53" stroke="#222" stroke-width="0.9"/>
<path d="M663.49,130.77 L667.09,134.37 M663.49,134.37 L667.09,130.77" stroke="#222" stroke-width="0.9"/>
<path d="M671.65,116.38 L675.25,119.98 M671.65,119.98 L675.25,116.38" stroke="#222" stroke-width="0.9"/>
<path d="M679.82,111.58 L683.42,115.18 M679.82,115.18 L683.42,111.58" stroke="#222" stroke-width="0.9"/>
<path d="M687.99,117.58 L691.58,121.18 M687.99,121.18 L691.58,117.58" stroke="#222" stroke-width="0.9"/>
<path d="M696.15,138.77 L699.75,142.37 M696.15,142.37 L699.75,138.77" stroke="#222" stroke-width="0.9"/>
<path d="M704.32,167.55 L707.91,171.15 M704.32,171.15 L707.91,167.55" stroke="#222" stroke-width="0.9"/>
<path d="M712.48,183.38 L716.08,186.98 M712.48,186.98 L716.08,183.38" stroke="#222" stroke-width="0.9"/>
<path d="M720.64,193.93 L724.24,197.53 M720.64,197.53 L724.24,193.93" stroke="#222" stroke-width="0.9"/>
<path d="M728.81,195.53 L732.41,199.13 M728.81,199.13 L732.41,195.53" stroke="#222" stroke-width="0.9"/>
<path d="M736.98,192.89 L740.57,196.49 M736.98,196.49 L740.57,192.89" stroke="#222" stroke-width="0.9"/>
<path d="M745.14,193.69 L748.74,197.29 M745.14,197.29 L748.74,193.69" stroke="#222" stroke-width="0.9"/>
<path d="M753.31,202.17 L756.90,205.77 M753.31,205.77 L756.90,202.17" stroke="#222" stroke-width="0.9"/>
<path d="M761.47,205.52 L765.07,209.12 M761.47,209.12 L765.07,205.52" stroke="#222" stroke-width="0.9"/>
<path d="M769.63,201.69 L773.23,205.29 M769.63,205.29 L773.23,201.69" stroke="#222" stroke-width="0.9"/>
<path d="M777.80,202.17 L781.40,205.77 M777.80,205.77 L781.40,202.17" stroke="#222" stroke-width="0.9"/>
<path d="M461.17,242.90 C462.53,242.95 466.61,243.17 469.33,243.22 C472.05,243.27 474.77,243.45 477.50,243.22 C480.22,242.99 482.94,243.45 485.66,241.86 C488.38,240.28 491.10,240.60 493.82,233.71 C496.55,226.82 499.27,207.46 501.99,200.53 C504.71,193.60 507.43,192.07 510.15,192.13 C512.88,192.20 515.60,199.92 518.32,200.93 C521.04,201.94 523.76,199.25 526.49,198.21 C529.21,197.17 531.93,194.69 534.65,194.69 C537.37,194.69 540.09,199.21 542.82,198.21 C545.54,197.21 548.26,191.17 550.98,188.70 C553.70,186.22 556.42,185.10 559.14,183.34 C561.87,181.58 564.59,179.23 567.31,178.14 C570.03,177.05 572.75,178.91 575.48,176.78 C578.20,174.65 580.92,169.29 583.64,165.35 C586.36,161.41 589.08,159.11 591.80,153.12 C594.53,147.12 597.25,136.79 599.97,129.37 C602.69,121.95 605.41,118.50 608.13,108.59 C610.86,98.67 613.58,73.87 616.30,69.89 C619.02,65.91 621.74,81.83 624.46,84.68 C627.19,87.53 629.91,83.68 632.63,87.00 C635.35,90.32 638.07,97.53 640.79,104.59 C643.52,111.65 646.24,125.64 648.96,129.37 C651.68,133.10 654.40,133.20 657.12,126.97 C659.85,120.75 662.57,101.36 665.29,92.04 C668.01,82.71 670.73,70.05 673.45,71.01 C676.18,71.97 678.90,87.21 681.62,97.79 C684.34,108.37 687.06,122.16 689.78,134.49 C692.51,146.81 695.23,162.67 697.95,171.75 C700.67,180.82 703.39,185.11 706.12,188.94 C708.84,192.76 711.56,193.29 714.28,194.69 C717.00,196.09 719.72,196.49 722.44,197.33 C725.17,198.17 727.89,199.40 730.61,199.73 C733.33,200.06 736.05,198.93 738.77,199.33 C741.50,199.73 744.22,201.07 746.94,202.13 C749.66,203.18 752.38,204.74 755.11,205.64 C757.83,206.55 760.55,207.47 763.27,207.56 C765.99,207.66 768.71,206.16 771.43,206.20 C774.16,206.24 778.24,207.54 779.60,207.80" fill="none" stroke="#1a1a1a" stroke-width="0.95"/>
<path d="M461.17,241.00 L462.77,244.10 L459.56,244.10 Z" fill="none" stroke="#1a1a1a" stroke-width="0.9"/>
<path d="M469.33,241.32 L470.93,244.42 L467.73,244.42 Z" fill="none" stroke="#1a1a1a" stroke-width="0.9"/>
<path d="M477.50,241.32 L479.10,244.42 L475.89,244.42 Z" fill="none" stroke="#1a1a1a" stroke-width="0.9"/>
<path d="M485.66,239.96 L487.26,243.06 L484.06,243.06 Z" fill="none" stroke="#1a1a1a" stroke-width="0.9"/>
<path d="M493.82,231.81 L495.43,234.91 L492.22,234.91 Z" fill="none" stroke="#1a1a1a" stroke-width="0.9"/>
<path d="M501.99,198.63 L503.59,201.73 L500.39,201.73 Z" fill="none" stroke="#1a1a1a" stroke-width="0.9"/>
<path d="M510.15,190.23 L511.75,193.33 L508.55,193.33 Z" fill="none" stroke="#1a1a1a" stroke-width="0.9"/>
<path d="M518.32,199.03 L519.92,202.13 L516.72,202.13 Z" fill="none" stroke="#1a1a1a" stroke-width="0.9"/>
<path d="M526.49,196.31 L528.09,199.41 L524.88,199.41 Z" fill="none" stroke="#1a1a1a" stroke-width="0.9"/>
<path d="M534.65,192.79 L536.25,195.89 L533.05,195.89 Z" fill="none" stroke="#1a1a1a" stroke-width="0.9"/>
<path d="M542.82,196.31 L544.42,199.41 L541.22,199.41 Z" fill="none" stroke="#1a1a1a" stroke-width="0.9"/>
<path d="M550.98,186.80 L552.58,189.90 L549.38,189.90 Z" fill="none" stroke="#1a1a1a" stroke-width="0.9"/>
<path d="M559.14,181.44 L560.75,184.54 L557.54,184.54 Z" fill="none" stroke="#1a1a1a" stroke-width="0.9"/>
<path d="M567.31,176.24 L568.91,179.34 L565.71,179.34 Z" fill="none" stroke="#1a1a1a" stroke-width="0.9"/>
<path d="M575.48,174.88 L577.08,177.98 L573.88,177.98 Z" fill="none" stroke="#1a1a1a" stroke-width="0.9"/>
<path d="M583.64,163.45 L585.24,166.55 L582.04,166.55 Z" fill="none" stroke="#1a1a1a" stroke-width="0.9"/>
<path d="M591.80,151.22 L593.40,154.32 L590.20,154.32 Z" fill="none" stroke="#1a1a1a" stroke-width="0.9"/>
<path d="M599.97,127.47 L601.57,130.57 L598.37,130.57 Z" fill="none" stroke="#1a1a1a" stroke-width="0.9"/>
<path d="M608.13,106.69 L609.74,109.79 L606.53,109.79 Z" fill="none" stroke="#1a1a1a" stroke-width="0.9"/>
<path d="M616.30,67.99 L617.90,71.09 L614.70,71.09 Z" fill="none" stroke="#1a1a1a" stroke-width="0.9"/>
<path d="M624.46,82.78 L626.06,85.88 L622.86,85.88 Z" fill="none" stroke="#1a1a1a" stroke-width="0.9"/>
<path d="M632.63,85.10 L634.23,88.20 L631.03,88.20 Z" fill="none" stroke="#1a1a1a" stroke-width="0.9"/>
<path d="M640.79,102.69 L642.39,105.79 L639.19,105.79 Z" fill="none" stroke="#1a1a1a" stroke-width="0.9"/>
<path d="M648.96,127.47 L650.56,130.57 L647.36,130.57 Z" fill="none" stroke="#1a1a1a" stroke-width="0.9"/>
<path d="M657.12,125.07 L658.73,128.17 L655.52,128.17 Z" fill="none" stroke="#1a1a1a" stroke-width="0.9"/>
<path d="M665.29,90.14 L666.89,93.24 L663.69,93.24 Z" fill="none" stroke="#1a1a1a" stroke-width="0.9"/>
<path d="M673.45,69.11 L675.05,72.21 L671.85,72.21 Z" fill="none" stroke="#1a1a1a" stroke-width="0.9"/>
<path d="M681.62,95.89 L683.22,98.99 L680.02,98.99 Z" fill="none" stroke="#1a1a1a" stroke-width="0.9"/>
<path d="M689.78,132.59 L691.38,135.69 L688.18,135.69 Z" fill="none" stroke="#1a1a1a" stroke-width="0.9"/>
<path d="M697.95,169.85 L699.55,172.95 L696.35,172.95 Z" fill="none" stroke="#1a1a1a" stroke-width="0.9"/>
<path d="M706.12,187.04 L707.72,190.14 L704.51,190.14 Z" fill="none" stroke="#1a1a1a" stroke-width="0.9"/>
<path d="M714.28,192.79 L715.88,195.89 L712.68,195.89 Z" fill="none" stroke="#1a1a1a" stroke-width="0.9"/>
<path d="M722.44,195.43 L724.04,198.53 L720.84,198.53 Z" fill="none" stroke="#1a1a1a" stroke-width="0.9"/>
<path d="M730.61,197.83 L732.21,200.93 L729.01,200.93 Z" fill="none" stroke="#1a1a1a" stroke-width="0.9"/>
<path d="M738.77,197.43 L740.38,200.53 L737.17,200.53 Z" fill="none" stroke="#1a1a1a" stroke-width="0.9"/>
<path d="M746.94,200.23 L748.54,203.33 L745.34,203.33 Z" fill="none" stroke="#1a1a1a" stroke-width="0.9"/>
<path d="M755.11,203.74 L756.71,206.84 L753.50,206.84 Z" fill="none" stroke="#1a1a1a" stroke-width="0.9"/>
<path d="M763.27,205.66 L764.87,208.76 L761.67,208.76 Z" fill="none" stroke="#1a1a1a" stroke-width="0.9"/>
<path d="M771.43,204.30 L773.03,207.40 L769.83,207.40 Z" fill="none" stroke="#1a1a1a" stroke-width="0.9"/>
<path d="M779.60,205.90 L781.20,209.00 L778.00,209.00 Z" fill="none" stroke="#1a1a1a" stroke-width="0.9"/>
<path d="M461.17,242.90 C462.53,242.95 466.61,243.17 469.33,243.22 C472.05,243.27 474.77,243.45 477.50,243.22 C480.22,242.99 482.94,243.45 485.66,241.86 C488.38,240.28 491.10,240.86 493.82,233.71 C496.55,226.55 499.27,206.70 501.99,198.93 C504.71,191.16 507.43,188.10 510.15,187.10 C512.88,186.10 515.60,192.43 518.32,192.93 C521.04,193.44 523.76,189.96 526.49,190.13 C529.21,190.31 531.93,194.64 534.65,193.97 C537.37,193.31 540.09,188.38 542.82,186.14 C545.54,183.90 548.26,181.91 550.98,180.54 C553.70,179.17 556.42,178.49 559.14,177.90 C561.87,177.32 564.59,177.78 567.31,177.02 C570.03,176.26 572.75,175.16 575.48,173.35 C578.20,171.53 580.92,169.48 583.64,166.15 C586.36,162.82 589.08,160.82 591.80,153.36 C594.53,145.90 597.25,131.64 599.97,121.38 C602.69,111.12 605.41,106.45 608.13,91.80 C610.86,77.14 613.58,40.10 616.30,33.43 C619.02,26.77 621.74,46.76 624.46,51.82 C627.19,56.88 629.91,58.48 632.63,63.81 C635.35,69.14 638.07,77.94 640.79,83.80 C643.52,89.66 646.24,96.99 648.96,98.99 C651.68,100.99 654.40,99.12 657.12,95.79 C659.85,92.46 662.57,82.80 665.29,79.00 C668.01,75.21 670.73,70.08 673.45,73.01 C676.18,75.94 678.90,87.20 681.62,96.59 C684.34,105.99 687.06,118.45 689.78,129.37 C692.51,140.30 695.23,153.89 697.95,162.15 C700.67,170.41 703.39,174.54 706.12,178.94 C708.84,183.34 711.56,185.74 714.28,188.54 C717.00,191.33 719.72,194.00 722.44,195.73 C725.17,197.46 727.89,198.13 730.61,198.93 C733.33,199.73 736.05,199.60 738.77,200.53 C741.50,201.46 744.22,203.33 746.94,204.53 C749.66,205.72 752.38,206.79 755.11,207.72 C757.83,208.66 760.55,209.72 763.27,210.12 C765.99,210.52 768.71,210.12 771.43,210.12 C774.16,210.12 778.24,210.12 779.60,210.12" fill="none" stroke="#1a1a1a" stroke-width="0.95"/>
<g font-family="Liberation Sans, Arial, sans-serif" font-weight="bold" fill="#000" stroke="#000" stroke-width="0.45">
<text x="35.60" y="9.50" font-size="11.20" text-anchor="end" textLength="13.30" lengthAdjust="spacingAndGlyphs">3,0</text>
<text x="35.60" y="45.05" font-size="11.20" text-anchor="end" textLength="13.30" lengthAdjust="spacingAndGlyphs">2,5</text>
<text x="35.60" y="80.60" font-size="11.20" text-anchor="end" textLength="13.30" lengthAdjust="spacingAndGlyphs">2,0</text>
<text x="35.60" y="116.15" font-size="11.20" text-anchor="end" textLength="13.30" lengthAdjust="spacingAndGlyphs">1,5</text>
<text x="35.60" y="151.70" font-size="11.20" text-anchor="end" textLength="13.30" lengthAdjust="spacingAndGlyphs">1,0</text>
<text x="35.60" y="187.25" font-size="11.20" text-anchor="end" textLength="13.30" lengthAdjust="spacingAndGlyphs">0,5</text>
<text x="35.60" y="222.80" font-size="11.20" text-anchor="end" textLength="13.30" lengthAdjust="spacingAndGlyphs">0,0</text>
<text x="35.60" y="258.35" font-size="11.20" text-anchor="end" textLength="15.40" lengthAdjust="spacingAndGlyphs">-0,5</text>
<text x="43.70" y="236.80" font-size="11.00" text-anchor="middle" textLength="5.70" lengthAdjust="spacingAndGlyphs">0</text>
<text x="60.05" y="236.80" font-size="11.00" text-anchor="middle" textLength="5.70" lengthAdjust="spacingAndGlyphs">1</text>
<text x="76.40" y="236.80" font-size="11.00" text-anchor="middle" textLength="5.70" lengthAdjust="spacingAndGlyphs">2</text>
<text x="92.75" y="236.80" font-size="11.00" text-anchor="middle" textLength="5.70" lengthAdjust="spacingAndGlyphs">3</text>
<text x="109.10" y="236.80" font-size="11.00" text-anchor="middle" textLength="5.70" lengthAdjust="spacingAndGlyphs">4</text>
<text x="125.45" y="236.80" font-size="11.00" text-anchor="middle" textLength="5.70" lengthAdjust="spacingAndGlyphs">5</text>
<text x="141.80" y="236.80" font-size="11.00" text-anchor="middle" textLength="5.70" lengthAdjust="spacingAndGlyphs">6</text>
<text x="158.15" y="236.80" font-size="11.00" text-anchor="middle" textLength="5.70" lengthAdjust="spacingAndGlyphs">7</text>
<text x="174.50" y="236.80" font-size="11.00" text-anchor="middle" textLength="5.70" lengthAdjust="spacingAndGlyphs">8</text>
<text x="190.85" y="236.80" font-size="11.00" text-anchor="middle" textLength="5.70" lengthAdjust="spacingAndGlyphs">9</text>
<text x="207.20" y="236.80" font-size="11.00" text-anchor="middle" textLength="11.00" lengthAdjust="spacingAndGlyphs">10</text>
<text x="223.55" y="236.80" font-size="11.00" text-anchor="middle" textLength="11.00" lengthAdjust="spacingAndGlyphs">11</text>
<text x="239.90" y="236.80" font-size="11.00" text-anchor="middle" textLength="11.00" lengthAdjust="spacingAndGlyphs">12</text>
<text x="256.25" y="236.80" font-size="11.00" text-anchor="middle" textLength="11.00" lengthAdjust="spacingAndGlyphs">13</text>
<text x="272.60" y="236.80" font-size="11.00" text-anchor="middle" textLength="11.00" lengthAdjust="spacingAndGlyphs">14</text>
<text x="288.95" y="236.80" font-size="11.00" text-anchor="middle" textLength="11.00" lengthAdjust="spacingAndGlyphs">15</text>
<text x="305.30" y="236.80" font-size="11.00" text-anchor="middle" textLength="11.00" lengthAdjust="spacingAndGlyphs">16</text>
<text x="321.65" y="236.80" font-size="11.00" text-anchor="middle" textLength="11.00" lengthAdjust="spacingAndGlyphs">17</text>
<text x="338.00" y="236.80" font-size="11.00" text-anchor="middle" textLength="11.00" lengthAdjust="spacingAndGlyphs">18</text>
<text x="354.35" y="236.80" font-size="11.00" text-anchor="middle" textLength="11.00" lengthAdjust="spacingAndGlyphs">19</text>
<text x="370.70" y="236.80" font-size="11.00" text-anchor="middle" textLength="11.00" lengthAdjust="spacingAndGlyphs">20</text>
<g stroke-width="0.15">
<text x="444.40" y="9.65" font-size="11.20" text-anchor="end" textLength="13.00" lengthAdjust="spacingAndGlyphs">3,0</text>
<text x="444.40" y="49.63" font-size="11.20" text-anchor="end" textLength="13.00" lengthAdjust="spacingAndGlyphs">2,5</text>
<text x="444.40" y="89.60" font-size="11.20" text-anchor="end" textLength="13.00" lengthAdjust="spacingAndGlyphs">2,0</text>
<text x="444.40" y="129.57" font-size="11.20" text-anchor="end" textLength="13.00" lengthAdjust="spacingAndGlyphs">1,5</text>
<text x="444.40" y="169.55" font-size="11.20" text-anchor="end" textLength="13.00" lengthAdjust="spacingAndGlyphs">1,0</text>
<text x="444.40" y="209.53" font-size="11.20" text-anchor="end" textLength="13.00" lengthAdjust="spacingAndGlyphs">0,5</text>
<text x="444.40" y="249.50" font-size="11.20" text-anchor="end" textLength="13.00" lengthAdjust="spacingAndGlyphs">0,0</text>
<text x="453.10" y="262.80" font-size="11.20" text-anchor="middle" textLength="5.50" lengthAdjust="spacingAndGlyphs">0</text>
<text x="469.43" y="262.80" font-size="11.20" text-anchor="middle" textLength="5.50" lengthAdjust="spacingAndGlyphs">1</text>
<text x="485.76" y="262.80" font-size="11.20" text-anchor="middle" textLength="5.50" lengthAdjust="spacingAndGlyphs">2</text>
<text x="502.09" y="262.80" font-size="11.20" text-anchor="middle" textLength="5.50" lengthAdjust="spacingAndGlyphs">3</text>
<text x="518.42" y="262.80" font-size="11.20" text-anchor="middle" textLength="5.50" lengthAdjust="spacingAndGlyphs">4</text>
<text x="534.75" y="262.80" font-size="11.20" text-anchor="middle" textLength="5.50" lengthAdjust="spacingAndGlyphs">5</text>
<text x="551.08" y="262.80" font-size="11.20" text-anchor="middle" textLength="5.50" lengthAdjust="spacingAndGlyphs">6</text>
<text x="567.41" y="262.80" font-size="11.20" text-anchor="middle" textLength="5.50" lengthAdjust="spacingAndGlyphs">7</text>
<text x="583.74" y="262.80" font-size="11.20" text-anchor="middle" textLength="5.50" lengthAdjust="spacingAndGlyphs">8</text>
<text x="600.07" y="262.80" font-size="11.20" text-anchor="middle" textLength="5.50" lengthAdjust="spacingAndGlyphs">9</text>
<text x="616.40" y="262.80" font-size="11.20" text-anchor="middle" textLength="10.60" lengthAdjust="spacingAndGlyphs">10</text>
<text x="632.73" y="262.80" font-size="11.20" text-anchor="middle" textLength="10.60" lengthAdjust="spacingAndGlyphs">11</text>
<text x="649.06" y="262.80" font-size="11.20" text-anchor="middle" textLength="10.60" lengthAdjust="spacingAndGlyphs">12</text>
<text x="665.39" y="262.80" font-size="11.20" text-anchor="middle" textLength="10.60" lengthAdjust="spacingAndGlyphs">13</text>
<text x="681.72" y="262.80" font-size="11.20" text-anchor="middle" textLength="10.60" lengthAdjust="spacingAndGlyphs">14</text>
<text x="698.05" y="262.80" font-size="11.20" text-anchor="middle" textLength="10.60" lengthAdjust="spacingAndGlyphs">15</text>
<text x="714.38" y="262.80" font-size="11.20" text-anchor="middle" textLength="10.60" lengthAdjust="spacingAndGlyphs">16</text>
<text x="730.71" y="262.80" font-size="11.20" text-anchor="middle" textLength="10.60" lengthAdjust="spacingAndGlyphs">17</text>
<text x="747.04" y="262.80" font-size="11.20" text-anchor="middle" textLength="10.60" lengthAdjust="spacingAndGlyphs">18</text>
<text x="763.37" y="262.80" font-size="11.20" text-anchor="middle" textLength="10.60" lengthAdjust="spacingAndGlyphs">19</text>
<text x="779.70" y="262.80" font-size="11.20" text-anchor="middle" textLength="10.60" lengthAdjust="spacingAndGlyphs">20</text>
</g>
<text x="83.90" y="80.70" font-size="12.40" textLength="66.38" lengthAdjust="spacingAndGlyphs">Piles Groups</text>
<text x="95.80" y="139.60" font-size="12.00" textLength="28.47" lengthAdjust="spacingAndGlyphs">s/d=5</text>
<text x="281.50" y="209.90" font-size="12.40" textLength="54.72" lengthAdjust="spacingAndGlyphs">Frequency</text>
<text x="338.50" y="209.90" font-size="12.40" textLength="20.31" lengthAdjust="spacingAndGlyphs">(Hz)</text>
<text x="193.40" y="47.00" font-size="12.40" textLength="17.52" lengthAdjust="spacingAndGlyphs">5x5</text>
<text x="193.70" y="68.37" font-size="12.40" textLength="17.18" lengthAdjust="spacingAndGlyphs">4x4</text>
<text x="193.70" y="89.74" font-size="12.40" textLength="17.24" lengthAdjust="spacingAndGlyphs">3x3</text>
<text x="193.30" y="110.80" font-size="12.40" textLength="17.59" lengthAdjust="spacingAndGlyphs">2x2</text>
<text x="467.80" y="56.50" font-size="11.90" textLength="66.65" lengthAdjust="spacingAndGlyphs">Piles Groups</text>
<text x="482.50" y="130.60" font-size="11.90" textLength="29.00" lengthAdjust="spacingAndGlyphs">s/d=5</text>
<text x="697.50" y="222.80" font-size="12.10" textLength="54.72" lengthAdjust="spacingAndGlyphs">Frequency</text>
<text x="755.20" y="222.80" font-size="12.10" textLength="20.32" lengthAdjust="spacingAndGlyphs">(Hz)</text>
<text x="576.20" y="21.25" font-size="12.00" textLength="17.52" lengthAdjust="spacingAndGlyphs">5x5</text>
<text x="576.20" y="41.50" font-size="12.00" textLength="17.52" lengthAdjust="spacingAndGlyphs">2x2</text>
<text x="576.20" y="61.75" font-size="12.00" textLength="17.52" lengthAdjust="spacingAndGlyphs">3x3</text>
<text x="576.20" y="81.60" font-size="12.00" textLength="17.70" lengthAdjust="spacingAndGlyphs">4x4</text>
<text style="white-space:pre" transform="translate(8.80,121.55) scale(0.85,1) rotate(-90)" text-anchor="middle" font-size="12.60" textLength="125.20" lengthAdjust="spacingAndGlyphs">Real Part  Kxx/nKsxx</text>
<text style="white-space:pre" transform="translate(418.40,112.40) scale(0.85,1) rotate(-90)" text-anchor="middle" font-size="12.40" textLength="151.10" lengthAdjust="spacingAndGlyphs">Imaginary Part Kxx/nKsxx</text>
</g>
<path d="M177.7,41.90 H191.5" stroke="#777" stroke-width="1.1" fill="none"/>
<path d="M177.7,63.30 H191.5" stroke="#1a1a1a" stroke-width="1.1" fill="none"/>
<path d="M184.60,61.40 L186.20,64.50 L183.00,64.50 Z" fill="none" stroke="#1a1a1a" stroke-width="0.9"/>
<path d="M177.7,84.60 H191.5" stroke="#111" stroke-width="1.1" stroke-dasharray="3,1.6" fill="none"/>
<path d="M182.80,82.80 L186.40,86.40 M182.80,86.40 L186.40,82.80" stroke="#111" stroke-width="0.9"/>
<path d="M177.7,106.00 H191.5" stroke="#333" stroke-width="1.1" stroke-dasharray="1.2,1" fill="none"/>
<circle cx="184.60" cy="106.00" r="1.8" fill="#fff" stroke="#333" stroke-width="0.9"/>
<path d="M560.0,16.65 H573.9" stroke="#777" stroke-width="1.1" fill="none"/>
<path d="M560.0,36.90 H573.9" stroke="#444" stroke-width="1.1" stroke-dasharray="2.2,1.2" fill="none"/>
<circle cx="566.95" cy="36.90" r="1.8" fill="#fff" stroke="#444" stroke-width="0.9"/>
<path d="M560.0,57.15 H573.9" stroke="#222" stroke-width="1.1" stroke-dasharray="3,1.5" fill="none"/>
<path d="M565.15,55.35 L568.75,58.95 M565.15,58.95 L568.75,55.35" stroke="#222" stroke-width="0.9"/>
<path d="M560.0,77.40 H573.9" stroke="#1a1a1a" stroke-width="1.1" fill="none"/>
<path d="M566.95,75.50 L568.55,78.60 L565.35,78.60 Z" fill="none" stroke="#1a1a1a" stroke-width="0.9"/>
<path d="M168.70,42.20 C167.72,42.76 167.40,43.74 167.40,45.00 L167.40,72.00 C167.40,74.31 166.05,74.73 165.60,76.20 C166.05,77.53 167.40,77.91 167.40,80.00 L167.40,107.60 C167.40,108.86 167.70,109.84 168.60,110.40" fill="none" stroke="#707070" stroke-width="0.95"/>
<path d="M555.60,12.90 C553.20,14.08 552.40,16.14 552.40,18.80 L552.40,40.30 C552.40,43.93 549.85,44.59 549.00,46.90 C549.85,49.14 552.40,49.78 552.40,53.30 L552.40,75.00 C552.40,77.47 553.25,79.40 555.80,80.50" fill="none" stroke="#707070" stroke-width="0.95"/>
</svg>
</body></html>
